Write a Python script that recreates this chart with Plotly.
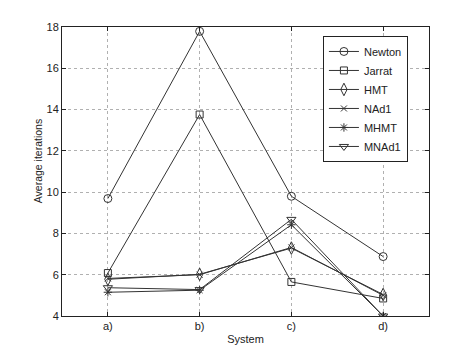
import plotly.graph_objects as go

systems = ["a)", "b)", "c)", "d)"]
xpos = [1, 2, 3, 4]
newton = [9.69, 17.79, 9.80, 6.88]
jarrat = [6.08, 13.76, 5.65, 4.85]
hmt = [5.78, 6.02, 7.29, 5.04]
nad1 = [5.82, 6.00, 7.32, 5.00]
mhmt = [5.15, 5.25, 8.42, 4.00]
mnad1 = [5.37, 5.28, 8.68, 4.00]
yticks = [4, 6, 8, 10, 12, 14, 16, 18]

series = [
    ("Newton", newton, "circle-open", 8),
    ("Jarrat", jarrat, "square-open", 7),
    ("HMT", hmt, "diamond-tall-open", 9),
    ("NAd1", nad1, "x-thin-open", 6),
    ("MHMT", mhmt, "asterisk-open", 7),
    ("MNAd1", mnad1, "triangle-down-open", 8),
]

lc = "#333333"
fig = go.Figure()
for name, ys, sym, sz in series:
    fig.add_trace(go.Scatter(
        x=xpos, y=ys, name=name, mode="lines+markers",
        line=dict(color=lc, width=1),
        marker=dict(symbol=sym, size=sz, color=lc, line=dict(color=lc, width=1)),
    ))

font = "Liberation Sans, Arial, sans-serif"
fig.update_layout(
    width=466, height=347,
    margin=dict(l=54, r=45, t=19, b=39),
    paper_bgcolor="white", plot_bgcolor="white",
    font=dict(family=font, size=11, color="#222"),
    showlegend=True,
    legend=dict(x=0.711, y=0.969, xanchor="left", yanchor="top",
                bgcolor="white", bordercolor="#222", borderwidth=1,
                font=dict(size=11), tracegroupgap=0, itemwidth=30),
    xaxis=dict(range=[0.5, 4.5], tickvals=xpos, ticktext=systems,
               showgrid=True, gridcolor="#b0b0b0", griddash="dot", gridwidth=1,
               showline=True, linecolor="#222", linewidth=1, mirror="ticks",
               ticks="inside", ticklen=4, tickcolor="#222", zeroline=False,
               automargin=False,
               title=dict(text="System", font=dict(size=11), standoff=4)),
    yaxis=dict(range=[4, 18], tickvals=yticks,
               showgrid=True, gridcolor="#b0b0b0", griddash="dot", gridwidth=1,
               showline=True, linecolor="#222", linewidth=1, mirror="ticks",
               ticks="inside", ticklen=4, tickcolor="#222", zeroline=False,
               automargin=False),
    annotations=[dict(text="Average iterations", textangle=-90,
                      xref="paper", yref="paper", x=-0.065, y=0.536,
                      xanchor="center", yanchor="middle", showarrow=False,
                      font=dict(size=10.5))],
)
fig.write_html("out.html")
